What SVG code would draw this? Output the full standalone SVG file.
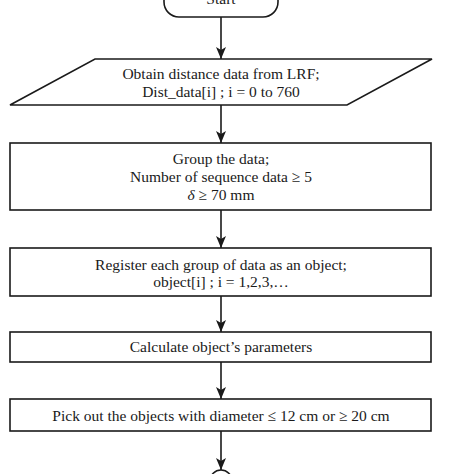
<svg xmlns="http://www.w3.org/2000/svg" width="474" height="474" viewBox="0 0 474 474">
<style>
.s{fill:#fff;stroke:#1a1a1a;stroke-width:1.6}
.t{font-family:"Liberation Serif","Times New Roman",serif;font-size:15.5px;fill:#1a1a1a;text-anchor:middle}
.c{stroke:#1a1a1a;stroke-width:1.6;fill:none}
</style>
<defs>
<marker id="ah" markerWidth="12" markerHeight="10" viewBox="0 0 12 10" refX="12" refY="5" orient="auto" markerUnits="userSpaceOnUse">
<path d="M0,0 L12,5 L0,10 L3,5 Z" fill="#1a1a1a"/>
</marker>
</defs>
<rect width="474" height="474" fill="#fff"/>
<g id="connectors">
<line class="c" x1="221" y1="17" x2="221" y2="59" marker-end="url(#ah)"/>
<line class="c" x1="221" y1="105" x2="221" y2="143" marker-end="url(#ah)"/>
<line class="c" x1="221" y1="210" x2="221" y2="248" marker-end="url(#ah)"/>
<line class="c" x1="221" y1="296" x2="221" y2="332" marker-end="url(#ah)"/>
<line class="c" x1="221" y1="362" x2="221" y2="399" marker-end="url(#ah)"/>
<line class="c" x1="221" y1="431" x2="221" y2="470" marker-end="url(#ah)"/>
</g>
<g id="start">
<rect class="s" x="164" y="-30" width="114" height="47" rx="15"/>
<text class="t" x="221" y="4">Start</text>
</g>
<g id="obtain">
<polygon class="s" points="95,59 432,59 347,105 10,105"/>
<text class="t" x="221" y="79">Obtain distance data from LRF;</text>
<text class="t" x="221" y="97">Dist_data[i] ; i = 0 to 760</text>
</g>
<g id="group">
<rect class="s" x="10" y="143" width="421" height="67"/>
<text class="t" x="221" y="164">Group the data;</text>
<text class="t" x="221" y="182">Number of sequence data ≥ 5</text>
<text class="t" x="221" y="200"><tspan font-style="italic">δ</tspan> ≥ 70 mm</text>
</g>
<g id="register">
<rect class="s" x="10" y="248" width="421" height="48"/>
<text class="t" x="221" y="270">Register each group of data as an object;</text>
<text class="t" x="221" y="287">object[i] ; i = 1,2,3,…</text>
</g>
<g id="calc">
<rect class="s" x="10" y="332" width="421" height="30"/>
<text class="t" x="221" y="352">Calculate object’s parameters</text>
</g>
<g id="pick">
<rect class="s" x="10" y="399" width="421" height="32"/>
<text class="t" x="221" y="421">Pick out the objects with diameter ≤ 12 cm or ≥ 20 cm</text>
</g>
<g id="end">
<rect class="s" x="210" y="470" width="22" height="30" rx="11"/>
</g>
</svg>
